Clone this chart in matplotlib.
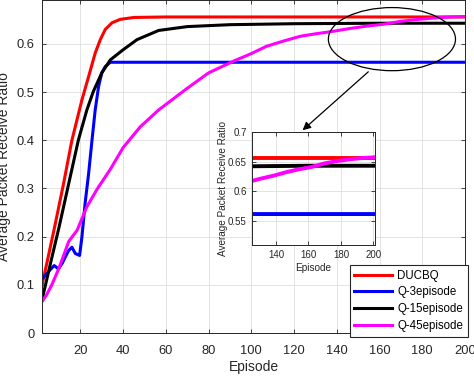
'''Average packet receive ratio vs episode, with zoomed inset'''

import numpy as np
import matplotlib
matplotlib.use("Agg")
import matplotlib.pyplot as plt
from matplotlib.patches import Ellipse

plt.rcParams['font.family'] = ['Liberation Sans', 'DejaVu Sans']

# values
ducbq_ep = [2, 5, 8, 12, 16, 20.7, 23.8, 26.9, 29.3, 31.6, 34.8, 38.6, 45, 60, 200]
ducbq_val = [0.099, 0.16, 0.222, 0.308, 0.40, 0.484, 0.532, 0.581, 0.609, 0.63,
             0.644, 0.651, 0.655, 0.656, 0.656]

q3_ep = [2, 4, 6, 7.7, 9.7, 11.5, 14.4, 16, 17.6, 19.6, 20.7, 22.2, 23.8, 25.4,
         26.9, 28.5, 30, 31.6, 34, 200]
q3_val = [0.112, 0.122, 0.132, 0.14, 0.133, 0.145, 0.171, 0.178, 0.165, 0.161,
          0.2, 0.27, 0.33, 0.40, 0.463, 0.512, 0.54, 0.553, 0.562, 0.562]

q15_ep = [2.5, 6, 10, 14.5, 19, 23, 26, 30, 34, 40, 46.5, 56.6, 70, 90, 120, 160, 200]
q15_val = [0.078, 0.145, 0.22, 0.31, 0.40, 0.463, 0.501, 0.54, 0.567, 0.588,
           0.609, 0.628, 0.636, 0.640, 0.642, 0.643, 0.643]

q45_ep = [2, 4, 6.6, 10, 14.5, 18.4, 23, 28, 34, 40, 48, 56.6, 70, 80, 92, 100,
          107, 115, 123, 130, 138, 146, 154, 162, 170, 178, 186, 193, 200]
q45_val = [0.065, 0.078, 0.1, 0.135, 0.19, 0.213, 0.262, 0.3, 0.34, 0.385, 0.428,
           0.463, 0.508, 0.54, 0.565, 0.58, 0.595, 0.606, 0.616, 0.621, 0.626,
           0.632, 0.637, 0.641, 0.647, 0.651, 0.654, 0.656, 0.657]

series = [(ducbq_ep, ducbq_val, 'red', 'DUCBQ'),
          (q3_ep, q3_val, 'blue', 'Q-3episode'),
          (q15_ep, q15_val, 'black', 'Q-15episode'),
          (q45_ep, q45_val, 'magenta', 'Q-45episode')]

xticks = [20, 40, 60, 80, 100, 120, 140, 160, 180, 200]
yticks = [0, 0.1, 0.2, 0.3, 0.4, 0.5, 0.6]
ytick_labels = ['0', '0.1', '0.2', '0.3', '0.4', '0.5', '0.6']
inset_xticks = [140, 160, 180, 200]
inset_yticks = [0.55, 0.6, 0.65, 0.7]
inset_ytick_labels = ['0.55', '0.6', '0.65', '0.7']

axcol = '#262626'


def matlab_style(ax, size):
    ax.grid(True, color='#dedede', linewidth=0.6)
    ax.set_axisbelow(True)
    ax.tick_params(direction='in', top=True, right=True, length=3,
                   width=0.6, labelsize=size, colors=axcol)
    for s in ax.spines.values():
        s.set_color(axcol)
        s.set_linewidth(0.7)


fig = plt.figure(figsize=(4.74, 3.77), dpi=100)
ax = fig.add_axes([0.0886, 0.1167, 0.8924, 0.8843])

for ep, val, col, name in series:
    ax.plot(ep, val, color=col, linewidth=2.2, label=name)

ax.set_xlim(2, 200)
ax.set_ylim(0, 0.692)
ax.set_xticks(xticks)
ax.set_yticks(yticks)
ax.set_yticklabels(ytick_labels)
matlab_style(ax, 9.3)
ax.tick_params(axis='x', pad=8.5)
ax.tick_params(axis='y', pad=5.5)
ax.set_xlabel('Episode', fontsize=10, color=axcol, labelpad=2.5)
ax.set_ylabel('Average Packet Receive Ratio', fontsize=10, color=axcol, labelpad=4)

# ellipse marking zoomed region and arrow to inset
ax.add_patch(Ellipse((165.8, 0.61), 59.5, 0.131, fill=False,
                     edgecolor='black', linewidth=0.9, zorder=5))
ax.annotate('', xy=(123, 0.417), xytext=(155.7, 0.546),
            arrowprops=dict(arrowstyle='-|>', color='black', lw=0.9,
                            mutation_scale=12), zorder=5)

leg = ax.legend(loc='upper left', bbox_to_anchor=(0.738, 0.297),
                bbox_transform=fig.transFigure, borderaxespad=0,
                fontsize=8.3, fancybox=False, framealpha=1,
                edgecolor=axcol, handlelength=3.3, handletextpad=0.4,
                labelspacing=0.42, borderpad=0.4)
leg.get_frame().set_linewidth(0.8)

# inset
axin = fig.add_axes([0.531, 0.350, 0.260, 0.3005])
for ep, val, col, name in series:
    axin.plot(ep, val, color=col, linewidth=2.8)
axin.set_xlim(125, 201)
axin.set_ylim(0.51, 0.7)
axin.set_xticks(inset_xticks)
axin.set_yticks(inset_yticks)
axin.set_yticklabels(inset_ytick_labels)
matlab_style(axin, 7)
axin.set_xlabel('Episode', fontsize=7.2, color=axcol, labelpad=2)
axin.set_ylabel('Average Packet Receive Ratio', fontsize=7.2, color=axcol, labelpad=0)

fig.savefig('out.png', dpi=100)
